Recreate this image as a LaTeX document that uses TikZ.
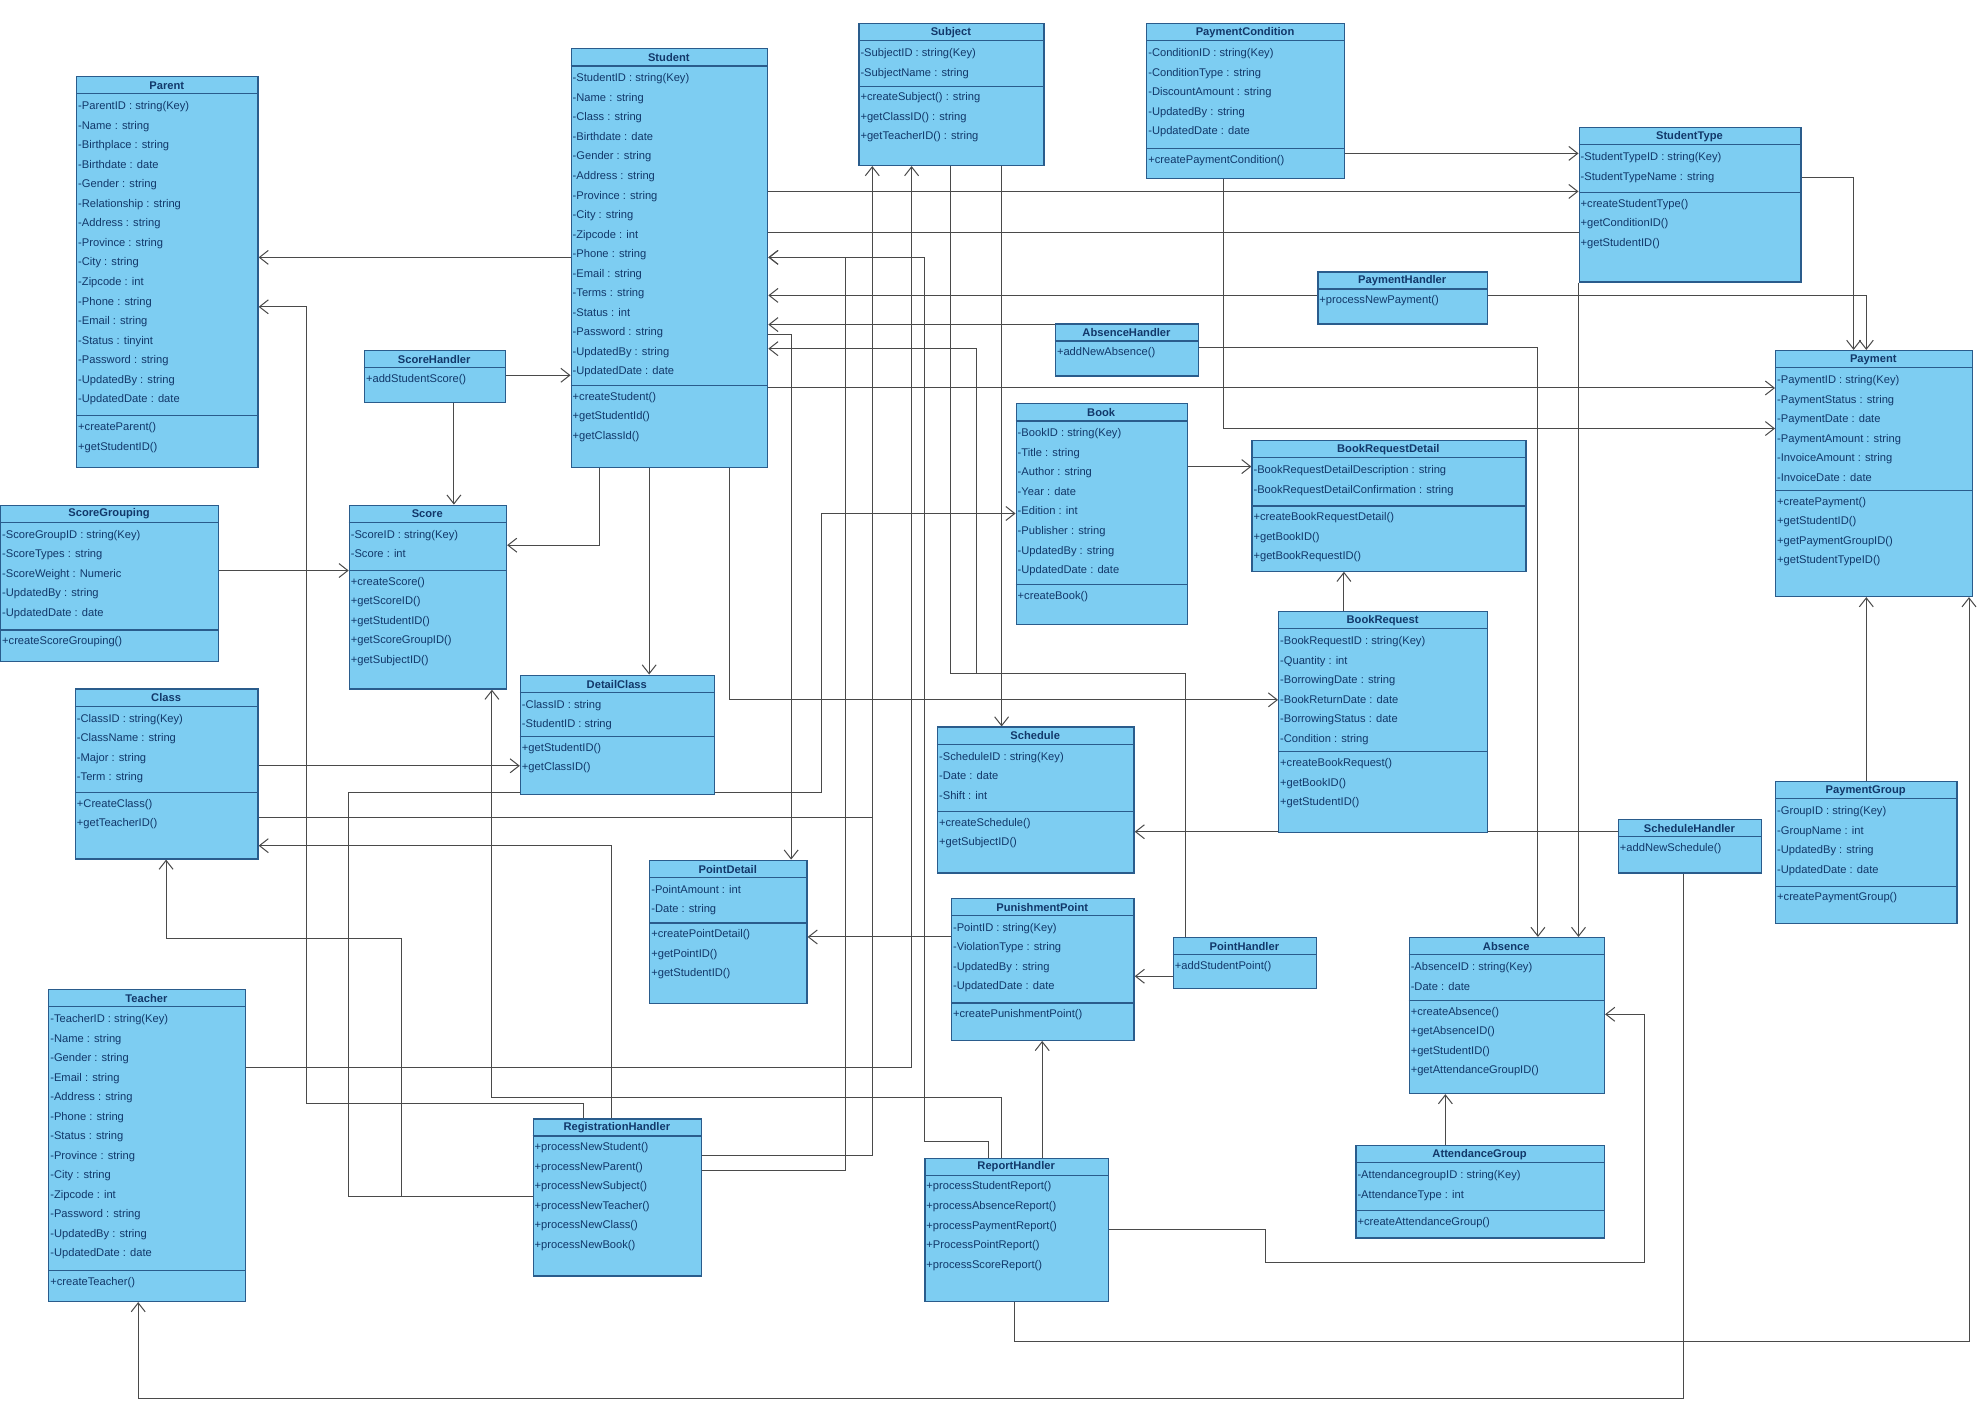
\documentclass[tikz,border=0pt]{standalone}
\usepackage{fontspec}
\setmainfont{Liberation Sans}
\usetikzlibrary{arrows.meta,backgrounds}
\definecolor{bg}{HTML}{7DCDF2}
\definecolor{bd}{HTML}{2A5C8C}
\definecolor{tx}{HTML}{12386A}
\definecolor{ln}{HTML}{4A4A4A}
\tikzset{
  conn/.style={draw=ln, line width=0.8pt},
  arr/.style={conn, -{Straight Barb[length=7pt,width=11pt]}},
  rows/.style={anchor=north west, inner sep=0pt, align=left, text=tx, font=\fontsize{8.8}{15.4}\selectfont},
  ttl/.style={inner sep=0pt, text=tx, font=\bfseries\fontsize{8.8}{10}\selectfont}
}
\newcommand\umlbox[9]{%
  \node[draw=bd, line width=1pt, fill=bg, inner sep=0pt, anchor=north west,
        minimum width={(#4-#2)*1pt}, minimum height={(#5-#3)*1pt}] (#1) at (#2,#3) {};
  \draw[bd, line width=1pt] ({#2},{#3+14}) -- ({#4},{#3+14});
  \draw[bd, line width=1pt] ({#2},{#6}) -- ({#4},{#6});
  \node[ttl] at ({(#2+#4)/2},{#3+7.5}) {#7};
  \node[rows] at ({#2+1.5},{#3+20}) {#8};
  \node[rows] at ({#2+1.5},{#6+5}) {#9};
}
\begin{document}
\begin{tikzpicture}[x=1pt,y=-1pt]
\begin{scope}[on background layer]
\fill[white] (0,0) rectangle (1568,1124);
\end{scope}
\useasboundingbox (0,0) rectangle (1568,1124);

% ---------- boxes ----------
\umlbox{par}{60}{60}{203}{368}{328}{Parent}{-ParentID : string(Key)\\-Name : string\\-Birthplace : string\\-Birthdate : date\\-Gender : string\\-Relationship : string\\-Address : string\\-Province : string\\-City : string\\-Zipcode : int\\-Phone : string\\-Email : string\\-Status : tinyint\\-Password : string\\-UpdatedBy : string\\-UpdatedDate : date}{+createParent()\\+getStudentID()}
\umlbox{stu}{450}{38}{605}{368}{304}{Student}{-StudentID : string(Key)\\-Name : string\\-Class : string\\-Birthdate : date\\-Gender : string\\-Address : string\\-Province : string\\-City : string\\-Zipcode : int\\-Phone : string\\-Email : string\\-Terms : string\\-Status : int\\-Password : string\\-UpdatedBy : string\\-UpdatedDate : date}{+createStudent()\\+getStudentId()\\+getClassId()}
\umlbox{sub}{677}{18}{823}{130}{68}{Subject}{-SubjectID : string(Key)\\-SubjectName : string}{+createSubject() : string\\+getClassID() : string\\+getTeacherID() : string}
\umlbox{pcond}{904}{18}{1060}{140}{117}{PaymentCondition}{-ConditionID : string(Key)\\-ConditionType : string\\-DiscountAmount : string\\-UpdatedBy : string\\-UpdatedDate : date}{+createPaymentCondition()}
\umlbox{stype}{1245}{100}{1420}{222}{152}{StudentType}{-StudentTypeID : string(Key)\\-StudentTypeName : string}{+createStudentType()\\+getConditionID()\\+getStudentID()}
\umlbox{phand}{1039}{214}{1173}{255}{228}{PaymentHandler}{}{+processNewPayment()}
\umlbox{ahand}{832}{255}{945}{296}{269}{AbsenceHandler}{}{+addNewAbsence()}
\umlbox{shand}{287}{276}{398}{317}{290}{ScoreHandler}{}{+addStudentScore()}
\umlbox{pay}{1400}{276}{1555}{470}{387}{Payment}{-PaymentID : string(Key)\\-PaymentStatus : string\\-PaymentDate : date\\-PaymentAmount : string\\-InvoiceAmount : string\\-InvoiceDate : date}{+createPayment()\\+getStudentID()\\+getPaymentGroupID()\\+getStudentTypeID()}
\umlbox{book}{801}{318}{936}{492}{461}{Book}{-BookID : string(Key)\\-Title : string\\-Author : string\\-Year : date\\-Edition : int\\-Publisher : string\\-UpdatedBy : string\\-UpdatedDate : date}{+createBook()}
\umlbox{brd}{987}{347}{1203}{450}{399}{BookRequestDetail}{-BookRequestDetailDescription : string\\-BookRequestDetailConfirmation : string}{+createBookRequestDetail()\\+getBookID()\\+getBookRequestID()}
\umlbox{sgrp}{0}{398}{172}{521}{497}{ScoreGrouping}{-ScoreGroupID : string(Key)\\-ScoreTypes : string\\-ScoreWeight : Numeric\\-UpdatedBy : string\\-UpdatedDate : date}{+createScoreGrouping()}
\umlbox{score}{275}{398}{399}{543}{450}{Score}{-ScoreID : string(Key)\\-Score : int}{+createScore()\\+getScoreID()\\+getStudentID()\\+getScoreGroupID()\\+getSubjectID()}
\umlbox{breq}{1008}{482}{1173}{656}{593}{BookRequest}{-BookRequestID : string(Key)\\-Quantity : int\\-BorrowingDate : string\\-BookReturnDate : date\\-BorrowingStatus : date\\-Condition : string}{+createBookRequest()\\+getBookID()\\+getStudentID()}
\umlbox{dcls}{410}{532}{563}{626}{581}{DetailClass}{-ClassID : string\\-StudentID : string}{+getStudentID()\\+getClassID()}
\umlbox{cls}{59}{543}{203}{677}{625}{Class}{-ClassID : string(Key)\\-ClassName : string\\-Major : string\\-Term : string}{+CreateClass()\\+getTeacherID()}
\umlbox{sched}{739}{573}{894}{688}{640}{Schedule}{-ScheduleID : string(Key)\\-Date : date\\-Shift : int}{+createSchedule()\\+getSubjectID()}
\umlbox{pgrp}{1400}{616}{1543}{728}{699}{PaymentGroup}{-GroupID : string(Key)\\-GroupName : int\\-UpdatedBy : string\\-UpdatedDate : date}{+createPaymentGroup()}
\umlbox{schand}{1276}{646}{1389}{688}{660}{ScheduleHandler}{}{+addNewSchedule()}
\umlbox{pdet}{512}{678}{636}{791}{728}{PointDetail}{-PointAmount : int\\-Date : string}{+createPointDetail()\\+getPointID()\\+getStudentID()}
\umlbox{ppt}{750}{708}{894}{820}{791}{PunishmentPoint}{-PointID : string(Key)\\-ViolationType : string\\-UpdatedBy : string\\-UpdatedDate : date}{+createPunishmentPoint()}
\umlbox{pthand}{925}{739}{1038}{779}{753}{PointHandler}{}{+addStudentPoint()}
\umlbox{abs}{1111}{739}{1265}{862}{789}{Absence}{-AbsenceID : string(Key)\\-Date : date}{+createAbsence()\\+getAbsenceID()\\+getStudentID()\\+getAttendanceGroupID()}
\umlbox{tch}{38}{780}{193}{1026}{1002}{Teacher}{-TeacherID : string(Key)\\-Name : string\\-Gender : string\\-Email : string\\-Address : string\\-Phone : string\\-Status : string\\-Province : string\\-City : string\\-Zipcode : int\\-Password : string\\-UpdatedBy : string\\-UpdatedDate : date}{+createTeacher()}
\umlbox{reg}{420}{882}{553}{1006}{896}{RegistrationHandler}{}{+processNewStudent()\\+processNewParent()\\+processNewSubject()\\+processNewTeacher()\\+processNewClass()\\+processNewBook()}
\umlbox{rep}{729}{913}{874}{1026}{927}{ReportHandler}{}{+processStudentReport()\\+processAbsenceReport()\\+processPaymentReport()\\+ProcessPointReport()\\+processScoreReport()}
\umlbox{agrp}{1069}{903}{1265}{976}{955}{AttendanceGroup}{-AttendancegroupID : string(Key)\\-AttendanceType : int}{+createAttendanceGroup()}

% ---------- connectors ----------
\begin{scope}[on background layer]
\draw[arr] (stu.west |- 0,203) -- (par.east |- 0,203);
\draw[arr] (reg.north -| 460,0) -- (460,870) -- (242,870) -- (242,242) -- (par.east |- 0,242);
\draw[arr] (shand.east |- 0,296) -- (stu.west |- 0,296);
\draw[arr] (shand.south -| 358,0) -- (score.north -| 358,0);
\draw[arr] (stu.south -| 473,0) -- (473,430) -- (score.east |- 0,430);
\draw[arr] (sgrp.east |- 0,450) -- (score.west |- 0,450);
\draw[arr] (stu.south -| 512,0) -- (dcls.north -| 512,0);
\draw[arr] (cls.east |- 0,604) -- (dcls.west |- 0,604);
\draw[arr] (stu.east |- 0,264) -- (624,264) -- (pdet.north -| 624,0);
\draw[arr] (stu.east |- 0,151) -- (stype.west |- 0,151);
\draw[conn] (stu.east |- 0,183) -- (stype.west |- 0,183);
\draw[arr] (pcond.east |- 0,121) -- (stype.west |- 0,121);
\draw[arr] (stype.east |- 0,140) -- (1462,140) -- (pay.north -| 1462,0);
\draw[arr] (phand.east |- 0,233) -- (1472,233) -- (pay.north -| 1472,0);
\draw[arr] (phand.west |- 0,233) -- (stu.east |- 0,233);
\draw[arr] (ahand.west |- 0,256) -- (stu.east |- 0,256);
\draw[arr] (ahand.east |- 0,274) -- (1213,274) -- (abs.north -| 1213,0);
\draw[arr] (stu.east |- 0,306) -- (pay.west |- 0,306);
\draw[arr] (pcond.south -| 965,0) -- (965,338) -- (pay.west |- 0,338);
\draw[arr] (stype.south west) -- (abs.north -| 1245,0);
\draw[arr] (book.east |- 0,368) -- (brd.west |- 0,368);
\draw[arr] (breq.north -| 1060,0) -- (brd.south -| 1060,0);
\draw[arr] (stu.south -| 575,0) -- (575,552) -- (breq.west |- 0,552);
\draw[arr] (reg.west |- 0,944) -- (275,944) -- (275,625) -- (648,625) -- (648,405) -- (book.west |- 0,405);
\draw[arr] (reg.west |- 0,944) -- (317,944) -- (317,740) -- (131,740) -- (cls.south -| 131,0);
\draw[arr] (reg.north -| 482,0) -- (482,667) -- (cls.east |- 0,667);
\draw[conn] (cls.east |- 0,645) -- (688,645);
\draw[arr] (reg.east |- 0,911) -- (688,911) -- (sub.south -| 688,0);
\draw[arr] (tch.east |- 0,842) -- (719,842) -- (sub.south -| 719,0);
\draw[arr] (reg.east |- 0,923) -- (667,923) -- (667,203) -- (stu.east |- 0,203);
\draw[arr] (rep.north -| 780,0) -- (780,900) -- (729,900) -- (729,203) -- (stu.east |- 0,203);
\draw[arr] (pthand.north -| 935,0) -- (935,531) -- (770,531) -- (770,275) -- (stu.east |- 0,275);
\draw[conn] (sub.south -| 750,0) -- (750,531) -- (770,531);
\draw[arr] (sub.south -| 790,0) -- (sched.north -| 790,0);
\draw[arr] (rep.north -| 790,0) -- (790,866) -- (388,866) -- (score.south -| 388,0);
\draw[arr] (rep.north -| 822,0) -- (ppt.south -| 822,0);
\draw[arr] (rep.east |- 0,970) -- (998,970) -- (998,996) -- (1297,996) -- (1297,800) -- (abs.east |- 0,800);
\draw[arr] (rep.south -| 800,0) -- (800,1058) -- (1553,1058) -- (pay.south -| 1553,0);
\draw[arr] (schand.south -| 1328,0) -- (1328,1103) -- (109,1103) -- (tch.south -| 109,0);
\draw[arr] (schand.west |- 0,656) -- (sched.east |- 0,656);
\draw[arr] (pthand.west |- 0,770) -- (ppt.east |- 0,770);
\draw[arr] (ppt.west |- 0,739) -- (pdet.east |- 0,739);
\draw[arr] (pgrp.north -| 1472,0) -- (pay.south -| 1472,0);
\draw[arr] (agrp.north -| 1140,0) -- (abs.south -| 1140,0);
\end{scope}
\end{tikzpicture}
\end{document}
